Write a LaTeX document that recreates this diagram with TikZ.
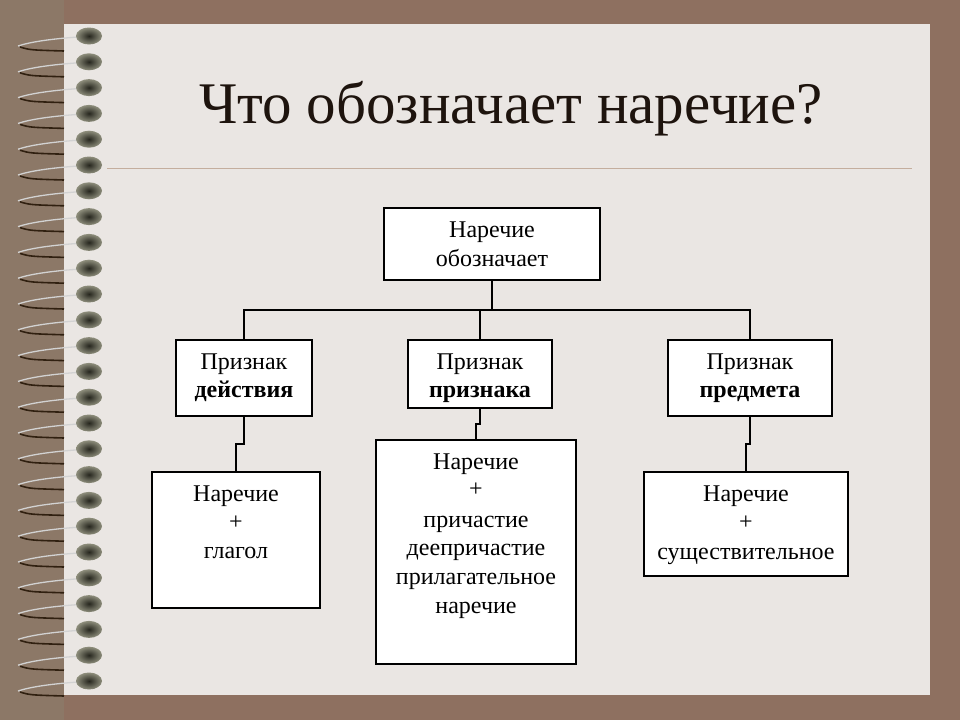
\documentclass[tikz,border=0pt]{standalone}
\usepackage{fontspec}
\setmainfont{Liberation Serif}
\definecolor{bgbrown}{HTML}{8E7060}
\definecolor{leftbrown}{HTML}{8C7867}
\definecolor{pagecol}{HTML}{EAE6E3}
\definecolor{rulecol}{HTML}{C4AE9E}
\definecolor{titlecol}{HTML}{1E140E}
\definecolor{blobdark}{HTML}{26261E}
\definecolor{blobmid}{HTML}{8E8E7C}
\tikzset{
  box/.style={draw=black, line width=1.3pt, fill=white, inner sep=0pt, outer sep=0pt},
  txt/.style={font=\fontsize{24}{28}\selectfont, align=center, inner sep=0pt, anchor=base},
  conn/.style={draw=black, line width=1.1pt},
  wireup/.style={draw=gray!35, line width=1.3pt},
  wirelow/.style={draw=black!75!brown, line width=1.6pt},
}
\begin{document}
\begin{tikzpicture}[x=1pt,y=-1pt]
\useasboundingbox (0,0) rectangle (960,720);
\fill[bgbrown] (0,0) rectangle (960,720);
\fill[leftbrown] (0,0) rectangle (64,720);
\fill[pagecol] (64,24) rectangle (930,695);
% spiral
\foreach \i in {0,...,25}{
  \pgfmathsetmacro{\yy}{36+25.8*\i}
  \draw[wirelow] (64,\yy+15) .. controls (30,\yy+14) .. (20,\yy+11);
  \draw[wireup] (78,\yy+1) .. controls (50,\yy+3) and (30,\yy+6) .. (18,\yy+10);
  \shade[inner color=blobdark, outer color=blobmid, shading=radial] (89,\yy) ellipse [x radius=13, y radius=8.5];
}
% title
\node[anchor=base, text=titlecol, font=\fontsize{59}{62}\selectfont, inner sep=0pt] (title) at (511,123) {Что обозначает наречие?};
\draw[rulecol, line width=0.8pt] (107,168) -- (912,168);
% boxes
\node[box, minimum width=216, minimum height=72, anchor=north west] (top) at (384,208) {};
\node[box, minimum width=136, minimum height=76, anchor=north west] (b1) at (176,340) {};
\node[box, minimum width=144, minimum height=68, anchor=north west] (b2) at (408,340) {};
\node[box, minimum width=164, minimum height=76, anchor=north west] (b3) at (668,340) {};
\node[box, minimum width=168, minimum height=136, anchor=north west] (c1) at (152,472) {};
\node[box, minimum width=200, minimum height=224, anchor=north west] (c2) at (376,440) {};
\node[box, minimum width=204, minimum height=104, anchor=north west] (c3) at (644,472) {};
% texts
\node[txt] (t0a) at (492,237) {Наречие};
\node[txt] (t0b) at (492,266) {обозначает};
\node[txt] (t1a) at (244,369) {Признак};
\node[txt] (t1b) at (244,397) {\textbf{действия}};
\node[txt] (t2a) at (480,369) {Признак};
\node[txt] (t2b) at (480,397) {\textbf{признака}};
\node[txt] (t3a) at (750,369) {Признак};
\node[txt] (t3b) at (750,397) {\textbf{предмета}};
\node[txt] (u1a) at (236,501) {Наречие};
\node[txt] (u1b) at (236,529) {+};
\node[txt] (u1c) at (236,558) {глагол};
\node[txt] (u2a) at (476,469) {Наречие};
\node[txt] (u2b) at (476,496) {+};
\node[txt] (u2c) at (476,527) {причастие};
\node[txt] (u2d) at (476,555) {деепричастие};
\node[txt] (u2e) at (476,584) {прилагательное};
\node[txt] (u2f) at (476,613) {наречие};
\node[txt] (u3a) at (746,501) {Наречие};
\node[txt] (u3b) at (746,529) {+};
\node[txt] (u3c) at (746,559) {существительное};
% connectors
\coordinate (hub) at (492,310);
\coordinate (hl) at (244,310);
\coordinate (hr) at (750,310);
\draw[conn] (top.south) -- (hub);
\draw[conn] (b1.north) -- (hl) -- (hr) -- (b3.north);
\draw[conn] (b2.north) -- (b2.north |- hub);
\draw[conn] (b1.south) -- ++(0,28) -| (c1.north);
\draw[conn] (b2.south) -- ++(0,16) -| (c2.north);
\draw[conn] (b3.south) -- ++(0,28) -| (c3.north);
\end{tikzpicture}
\end{document}
